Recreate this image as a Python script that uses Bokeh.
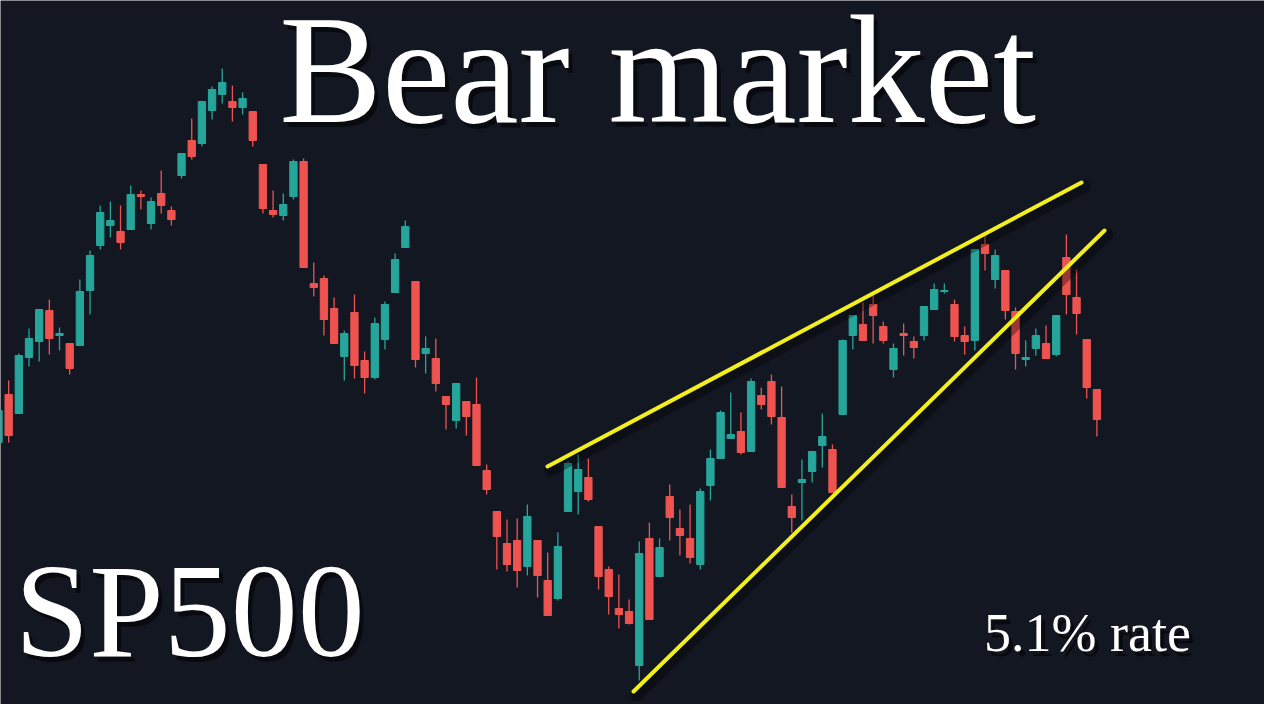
from bokeh.plotting import figure
from bokeh.models import ColumnDataSource, Range1d, Label
from bokeh.embed import file_html
from bokeh.resources import INLINE

# Daily S&P 500 candles (index units; no price axis shown)
opens = [270, 318, 299, 355, 371, 402, 377, 369, 367, 422, 467, 487, 481, 483, 518, 489, 519, 502, 537, 572,
         569, 602, 618, 611, 605, 601, 548, 502, 497, 516, 551, 429, 434, 404, 356, 400, 352, 335, 373, 420,
         465, 431, 359, 354, 316, 292, 311, 308, 242, 201, 169, 172, 146, 172, 132, 114, 201, 221, 235, 186,
         143, 104, 101, 47, 174, 136, 216, 184, 174, 148, 227, 254, 274, 281, 261, 317, 331, 295, 206, 230,
         241, 267, 263, 298, 377, 388, 408, 386, 343, 379, 371, 377, 403, 421, 408, 377, 372, 468, 433, 442,
         401, 353, 364, 369, 358, 455, 415, 373, 323]
highs = [303, 332, 359, 384, 403, 413, 385, 369, 433, 462, 507, 511, 507, 527, 522, 515, 542, 506, 559, 594,
         611, 626, 644, 627, 620, 601, 548, 522, 519, 553, 554, 450, 437, 415, 382, 418, 361, 395, 411, 459,
         492, 431, 376, 374, 316, 329, 311, 335, 248, 201, 193, 194, 208, 172, 160, 180, 251, 258, 254, 186,
         146, 138, 113, 171, 190, 174, 228, 203, 208, 224, 263, 302, 320, 300, 334, 325, 338, 326, 218, 253,
         261, 299, 268, 373, 397, 410, 417, 391, 369, 389, 376, 406, 429, 429, 413, 386, 463, 477, 463, 442,
         405, 372, 384, 387, 397, 478, 443, 373, 323]
lows = [268, 270, 299, 346, 351, 358, 362, 338, 367, 398, 463, 475, 463, 483, 503, 483, 499, 487, 534, 553,
        566, 593, 609, 591, 598, 566, 499, 495, 492, 513, 445, 416, 377, 369, 332, 334, 319, 333, 363, 420,
        465, 345, 339, 321, 283, 284, 277, 247, 218, 143, 141, 125, 137, 115, 97, 112, 201, 198, 211, 123,
        98, 84, 88, 32, 93, 136, 172, 157, 149, 143, 212, 254, 274, 258, 261, 303, 288, 225, 180, 192,
        230, 245, 220, 298, 363, 372, 369, 369, 335, 357, 354, 372, 403, 419, 371, 358, 362, 442, 424, 393,
        343, 346, 357, 354, 356, 398, 378, 314, 276]
closes = [302, 277, 357, 374, 403, 374, 379, 344, 421, 457, 500, 492, 470, 518, 516, 511, 507, 493, 559, 556,
          611, 623, 630, 605, 614, 572, 504, 498, 508, 551, 445, 425, 393, 369, 379, 347, 335, 389, 408, 453,
          486, 353, 364, 329, 308, 329, 296, 247, 223, 176, 148, 142, 196, 137, 97, 166, 249, 243, 213, 136,
          116, 98, 89, 159, 93, 165, 195, 177, 155, 221, 254, 300, 278, 260, 331, 308, 296, 225, 195, 233,
          261, 276, 220, 372, 397, 372, 397, 372, 364, 377, 365, 406, 423, 422, 376, 371, 463, 459, 457, 402,
          359, 355, 377, 354, 397, 418, 399, 325, 293]

# Hand-drawn rising-wedge trend lines (candle index, index level)
wedge_top_x = [53.98, 106.49]
wedge_top_y = [246, 530]
wedge_bottom_x = [62.44, 108.75]
wedge_bottom_y = [21, 482]

title_text = "Bear market"
ticker_text = "SP500"
rate_text = "5.1% rate"

UP = "#26a69a"
DOWN = "#ef5350"
BG = "#131722"
YELLOW = "#f3ef1c"

n = len(opens)
idx = list(range(n))
colors = [UP if c >= o else DOWN for o, c in zip(opens, closes)]
tops = [max(o, c) for o, c in zip(opens, closes)]
bottoms = [min(o, c) for o, c in zip(opens, closes)]

src = ColumnDataSource(dict(x=idx, open=opens, high=highs, low=lows, close=closes,
                            top=tops, bottom=bottoms, color=colors))

p = figure(width=1264, height=704, output_backend="svg", toolbar_location=None,
           x_range=Range1d(0.197, 124.48), y_range=Range1d(8, 712),
           background_fill_color=BG, border_fill_color=BG, outline_line_color=None,
           min_border=0)
p.axis.visible = False
p.grid.visible = False

p.segment(x0="x", y0="high", x1="x", y1="low", source=src, line_color="color", line_width=1.3)
p.vbar(x="x", width=0.72, top="top", bottom="bottom", source=src,
       fill_color="color", line_color="color", line_width=1)

# trend lines with soft dark shadow
for xs, ys in ((wedge_top_x, wedge_top_y), (wedge_bottom_x, wedge_bottom_y)):
    p.line([x + 0.3 for x in xs], [y - 4 for y in ys], line_color="black", line_alpha=0.35,
           line_width=12, line_cap="round")
    p.line(xs, ys, line_color=YELLOW, line_width=4, line_cap="round")

def add_text(txt, x, y, size):
    p.add_layout(Label(x=x, y=y, text=txt, text_font="Liberation Serif", text_font_size=size,
                       text_color="black", text_alpha=0.55, text_baseline="alphabetic",
                       x_offset=4, y_offset=-5))
    p.add_layout(Label(x=x, y=y, text=txt, text_font="Liberation Serif", text_font_size=size,
                       text_color="white", text_baseline="alphabetic"))

add_text(title_text, 27.6, 643, "154px")
add_text(ticker_text, 1.6, 102, "134px")
add_text(rate_text, 96.9, 80, "54px")

open("out.html", "w").write(file_html(p, INLINE))
